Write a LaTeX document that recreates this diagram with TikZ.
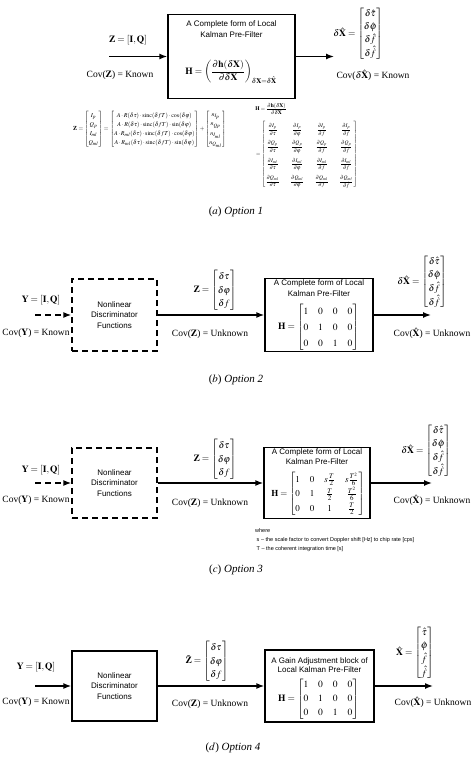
\documentclass[tikz,border=0pt]{standalone}
\usepackage{amsmath}
\usepackage{mathptmx}
\usepackage{fontspec}
\setmainfont{Liberation Serif}
\setsansfont{Liberation Sans}
\usepackage{tikz}
\usetikzlibrary{arrows.meta, positioning}

\begin{document}
\begin{tikzpicture}[x=1pt, y=-1pt,
  blk/.style={draw, line width=1.4pt, inner sep=0pt, align=center, font=\sffamily\fontsize{8}{10.5}\selectfont},
  dblk/.style={blk, dash pattern=on 6pt off 4pt},
  arr/.style={-{Latex[length=8pt, width=6pt]}, line width=1.4pt},
  boxtxt/.style={inner sep=0pt, align=center, font=\sffamily\fontsize{8}{10.5}\selectfont},
  lbl/.style={inner sep=0pt, font=\fontsize{9.5}{13.5}\selectfont},
  eqn/.style={inner sep=0pt, font=\fontsize{6}{9}\selectfont},
  figcap/.style={inner sep=0pt, font=\fontsize{11}{13}\selectfont}
]
  \useasboundingbox (0,0) rectangle (474,765);

  % (a) Option 1
  \node[blk, minimum width=127pt, minimum height=84pt] (kfa) at (231.5,56.5) {};
  \node[boxtxt, anchor=north] (kfatxt) at ([yshift=-7pt]kfa.north) {A Complete form of Local\\Kalman Pre-Filter};
  \node[lbl] (ha) at (231,72) {$\mathbf{H}=\left(\dfrac{\partial\mathbf{h}(\delta\mathbf{X})}{\partial\delta\mathbf{X}}\right)_{\delta\mathbf{X}=\delta\hat{\mathbf{X}}}$};
  \coordinate (zina) at (109,56.5);
  \coordinate (xouta) at (334,56.5);
  \draw[arr] (zina) -- (kfa);
  \draw[arr] (kfa) -- (xouta);
  \node[lbl] (za) at (128,40) {$\mathbf{Z}=[\mathbf{I},\mathbf{Q}]$};
  \node[lbl] (covza) at (120,75) {Cov($\mathbf{Z}$) = Known};
  \node[lbl, font=\fontsize{9.5}{13}\selectfont] (dxa) at (358,34) {$\delta\hat{\mathbf{X}}=\begin{bmatrix}\delta\hat{\tau}\\ \delta\hat{\varphi}\\ \delta\hat{f}\\ \delta\hat{\dot{f}}\end{bmatrix}$};
  \node[lbl] (covxa) at (373,75) {Cov($\delta\hat{\mathbf{X}}$) = Known};

  % measurement model and Jacobian
  \node[eqn, anchor=west] (zlhs) at (73,129) {$\mathbf{Z}=\begin{bmatrix}I_p\\ Q_p\\ I_{ml}\\ Q_{ml}\end{bmatrix}=$};
  \node[eqn, right=1pt of zlhs] (zmid) {$\begin{bmatrix}A\cdot R(\delta\tau)\cdot\mathrm{sinc}(\delta fT)\cdot\cos(\delta\varphi)\\ A\cdot R(\delta\tau)\cdot\mathrm{sinc}(\delta fT)\cdot\sin(\delta\varphi)\\ A\cdot R_{ml}(\delta\tau)\cdot\mathrm{sinc}(\delta fT)\cdot\cos(\delta\varphi)\\ A\cdot R_{ml}(\delta\tau)\cdot\mathrm{sinc}(\delta fT)\cdot\sin(\delta\varphi)\end{bmatrix}$};
  \node[eqn, right=1pt of zmid] (znoise) {$+\begin{bmatrix}n_{I_p}\\ n_{Q_p}\\ n_{I_{ml}}\\ n_{Q_{ml}}\end{bmatrix}$};
  \node[inner sep=0pt, font=\fontsize{5.5}{7}\selectfont] (hda) at (271,109) {$\mathbf{H}=\dfrac{\partial\mathbf{h}(\delta\mathbf{X})}{\partial\delta\mathbf{X}}$};
  \node[inner sep=0pt, anchor=west, font=\fontsize{5.5}{17}\selectfont] (hma) at (256,154) {$=\begin{bmatrix}
    \dfrac{\partial I_p}{\partial\tau} & \dfrac{\partial I_p}{\partial\varphi} & \dfrac{\partial I_p}{\partial f} & \dfrac{\partial I_p}{\partial\dot{f}}\\
    \dfrac{\partial Q_p}{\partial\tau} & \dfrac{\partial Q_p}{\partial\varphi} & \dfrac{\partial Q_p}{\partial f} & \dfrac{\partial Q_p}{\partial\dot{f}}\\
    \dfrac{\partial I_{ml}}{\partial\tau} & \dfrac{\partial I_{ml}}{\partial\varphi} & \dfrac{\partial I_{ml}}{\partial f} & \dfrac{\partial I_{ml}}{\partial\dot{f}}\\
    \dfrac{\partial Q_{ml}}{\partial\tau} & \dfrac{\partial Q_{ml}}{\partial\varphi} & \dfrac{\partial Q_{ml}}{\partial f} & \dfrac{\partial Q_{ml}}{\partial\dot{f}}
  \end{bmatrix}$};
  \node[figcap] (capa) at (236,212) {($a$) \textit{Option 1}};

  % (b) Option 2
  \node[dblk, minimum width=85pt, minimum height=72pt] (ndfb) at (114.5,315) {Nonlinear\\Discriminator\\Functions};
  \node[blk, minimum width=108pt, minimum height=73pt] (kfb) at (319,315) {};
  \node[boxtxt, anchor=north] (kfbtxt) at ([yshift=-2pt]kfb.north) {A Complete form of Local\\Kalman Pre-Filter};
  \node[lbl, font=\fontsize{9.5}{16}\selectfont] (hb) at (318.5,327) {$\mathbf{H}=\begin{bmatrix}1&0&0&0\\ 0&1&0&0\\ 0&0&1&0\end{bmatrix}$};
  \coordinate (yinb) at (35,315);
  \coordinate (xoutb) at (431,315);
  \draw[arr, dash pattern=on 6pt off 4pt] (yinb) -- (ndfb);
  \draw[arr] (ndfb) -- (kfb);
  \draw[arr] (kfb) -- (xoutb);
  \node[lbl] (yb) at (41,300) {$\mathbf{Y}=[\mathbf{I},\mathbf{Q}]$};
  \node[lbl] (covyb) at (36,333) {Cov($\mathbf{Y}$) = Known};
  \node[lbl] (zb) at (215,290.5) {$\mathbf{Z}=\begin{bmatrix}\delta\tau\\ \delta\varphi\\ \delta f\end{bmatrix}$};
  \node[lbl] (covzb) at (210,334) {Cov($\mathbf{Z}$) = Unknown};
  \node[lbl] (dxb) at (422,282) {$\delta\hat{\mathbf{X}}=\begin{bmatrix}\delta\hat{\tau}\\ \delta\hat{\varphi}\\ \delta\hat{f}\\ \delta\hat{\dot{f}}\end{bmatrix}$};
  \node[lbl] (covxb) at (432,333) {Cov($\hat{\mathbf{X}}$) = Unknown};
  \node[figcap] (capb) at (236,380) {($b$) \textit{Option 2}};

  % (c) Option 3
  \node[dblk, minimum width=85pt, minimum height=70pt] (ndfc) at (114.5,483) {Nonlinear\\Discriminator\\Functions};
  \node[blk, minimum width=106pt, minimum height=71pt] (kfc) at (317,483) {};
  \node[boxtxt, anchor=north, font=\sffamily\fontsize{8}{10}\selectfont] (kfctxt) at ([yshift=-2pt]kfc.north) {A Complete form of Local\\Kalman Pre-Filter};
  \node[lbl, font=\fontsize{9}{14.5}\selectfont] (hc) at (318,494) {$\mathbf{H}=\begin{bmatrix}1&0&s\frac{T}{2}&s\frac{T^2}{6}\\ 0&1&\frac{T}{2}&\frac{T^2}{6}\\ 0&0&1&\frac{T}{2}\end{bmatrix}$};
  \coordinate (yinc) at (35,483);
  \coordinate (xoutc) at (432,483);
  \draw[arr, dash pattern=on 6pt off 4pt] (yinc) -- (ndfc);
  \draw[arr] (ndfc) -- (kfc);
  \draw[arr] (kfc) -- (xoutc);
  \node[lbl] (yc) at (41,470) {$\mathbf{Y}=[\mathbf{I},\mathbf{Q}]$};
  \node[lbl] (covyc) at (36,500) {Cov($\mathbf{Y}$) = Known};
  \node[lbl] (zc) at (215,459.5) {$\mathbf{Z}=\begin{bmatrix}\delta\tau\\ \delta\varphi\\ \delta f\end{bmatrix}$};
  \node[lbl] (covzc) at (210,503) {Cov($\mathbf{Z}$) = Unknown};
  \node[lbl] (dxc) at (426,451) {$\delta\hat{\mathbf{X}}=\begin{bmatrix}\delta\hat{\tau}\\ \delta\hat{\varphi}\\ \delta\hat{f}\\ \delta\hat{\dot{f}}\end{bmatrix}$};
  \node[lbl] (covxc) at (432,500) {Cov($\hat{\mathbf{X}}$) = Unknown};
  \node[inner sep=0pt, anchor=north west, align=left, font=\sffamily\fontsize{5.5}{9}\selectfont] (notec) at (255,528) {where\\ \ s -- the scale factor to convert Doppler shift [Hz] to chip rate [cps]\\ \ T -- the coherent integration time [s]};
  \node[figcap] (capc) at (236,570) {($c$) \textit{Option 3}};

  % (d) Option 4
  \node[blk, minimum width=85pt, minimum height=70pt] (ndfd) at (114.5,686) {Nonlinear\\Discriminator\\Functions};
  \node[blk, minimum width=109pt, minimum height=72pt] (kfd) at (319.5,686) {};
  \node[boxtxt, anchor=north, font=\sffamily\fontsize{8}{9.5}\selectfont] (kfdtxt) at ([yshift=-8pt]kfd.north) {A Gain Adjustment block of\\Local Kalman Pre-Filter};
  \node[lbl, font=\fontsize{9.5}{14}\selectfont] (hd) at (318.5,699) {$\mathbf{H}=\begin{bmatrix}1&0&0&0\\ 0&1&0&0\\ 0&0&1&0\end{bmatrix}$};
  \coordinate (yind) at (35,686);
  \coordinate (xoutd) at (433,686);
  \draw[arr] (yind) -- (ndfd);
  \draw[arr] (ndfd) -- (kfd);
  \draw[arr] (kfd) -- (xoutd);
  \node[lbl] (yd) at (36,667) {$\mathbf{Y}=[\mathbf{I},\mathbf{Q}]$};
  \node[lbl] (covyd) at (36,702) {Cov($\mathbf{Y}$) = Known};
  \node[lbl] (zd) at (207,661.5) {$\tilde{\mathbf{Z}}=\begin{bmatrix}\delta\tau\\ \delta\varphi\\ \delta f\end{bmatrix}$};
  \node[lbl] (covzd) at (210,704) {Cov($\mathbf{Z}$) = Unknown};
  \node[lbl] (xd) at (415,653) {$\hat{\mathbf{X}}=\begin{bmatrix}\hat{\tau}\\ \hat{\varphi}\\ \hat{f}\\ \hat{\dot{f}}\end{bmatrix}$};
  \node[lbl] (covxd) at (433,702) {Cov($\hat{\mathbf{X}}$) = Unknown};
  \node[figcap] (capd) at (233,748) {($d$) \textit{Option 4}};
\end{tikzpicture}
\end{document}
